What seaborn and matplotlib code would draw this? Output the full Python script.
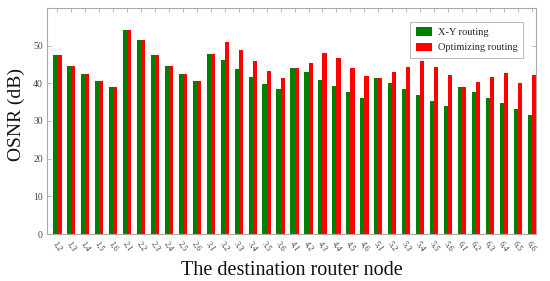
import matplotlib
matplotlib.use("Agg")
import matplotlib.pyplot as plt
import seaborn as sns
import pandas as pd

nodes = ["1,2", "1,3", "1,4", "1,5", "1,6",
         "2,1", "2,2", "2,3", "2,4", "2,5", "2,6",
         "3,1", "3,2", "3,3", "3,4", "3,5", "3,6",
         "4,1", "4,2", "4,3", "4,4", "4,5", "4,6",
         "5,1", "5,2", "5,3", "5,4", "5,5", "5,6",
         "6,1", "6,2", "6,3", "6,4", "6,5", "6,6"]
xy_routing = [47.4, 44.7, 42.6, 40.7, 39.0,
              54.2, 51.6, 47.4, 44.6, 42.5, 40.6,
              47.7, 46.1, 43.7, 41.7, 39.9, 38.4,
              44.2, 42.9, 40.9, 39.2, 37.6, 36.1,
              41.3, 40.1, 38.4, 36.9, 35.4, 33.9,
              38.9, 37.7, 36.2, 34.7, 33.2, 31.7]
opt_routing = [47.4, 44.7, 42.6, 40.7, 39.0,
               54.2, 51.6, 47.4, 44.6, 42.5, 40.6,
               47.7, 50.9, 48.9, 45.8, 43.4, 41.4,
               44.2, 45.3, 48.1, 46.6, 44.0, 42.0,
               41.3, 43.0, 44.4, 45.8, 44.4, 42.2,
               38.9, 40.4, 41.6, 42.7, 40.0, 42.2]
series = ["X-Y routing", "Optimizing routing"]
yticks = [0, 10, 20, 30, 40, 50]

df = pd.DataFrame({
    "node": nodes * 2,
    "osnr": xy_routing + opt_routing,
    "routing": [series[0]] * len(nodes) + [series[1]] * len(nodes),
})

sns.set_style("white")
plt.rcParams["font.family"] = ["Liberation Serif", "DejaVu Serif"]

fig = plt.figure(figsize=(5.5, 2.81), dpi=100)
ax = fig.add_axes([47 / 550, 1 - 234 / 281, (536 - 47) / 550, (234 - 8) / 281])

sns.barplot(data=df, x="node", y="osnr", hue="routing", order=nodes,
            hue_order=series, palette=["#008000", "#ff0000"],
            width=0.6, saturation=1, linewidth=0, errorbar=None, ax=ax)

ax.set_ylim(0, 60)
ax.set_xlim(-0.74, 34.3)
ax.set_yticks(yticks)
ax.set_yticklabels([str(v) for v in yticks], fontsize=7, color="#444444")
ax.set_xticks(range(len(nodes)))
ax.set_xticklabels(nodes, rotation=-55, fontsize=6, color="#444444",
                   ha="left", rotation_mode="anchor")
ax.tick_params(axis="both", direction="in", length=3, color="#aaaaaa",
               top=True, right=True, bottom=True, left=True, width=0.6, pad=3)
ax.tick_params(axis="x", pad=4)
for s in ax.spines.values():
    s.set_color("#aaaaaa")
    s.set_linewidth(0.8)

ax.set_xlabel("The destination router node", fontsize=14.5, color="#111111", labelpad=6)
ax.set_ylabel("OSNR (dB)", fontsize=14, color="#111111")
ax.yaxis.set_label_coords(-0.045, 0.527)

leg = ax.legend(loc="upper right", bbox_to_anchor=(0.985, 0.96), fontsize=7.5,
                frameon=True, fancybox=False, edgecolor="#999999",
                handlelength=1.6, handleheight=0.9, borderpad=0.5,
                labelspacing=0.5, handletextpad=0.6)
leg.get_frame().set_linewidth(0.6)

fig.savefig("out.png", dpi=100)
